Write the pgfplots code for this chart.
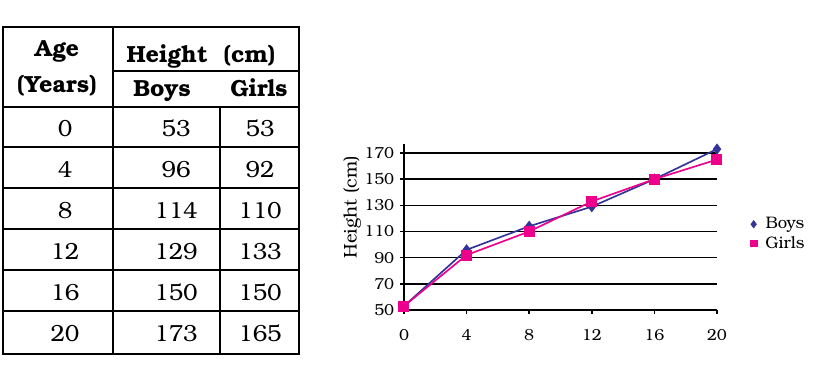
\documentclass[border=0pt]{standalone}
\usepackage{fontspec}
\setmainfont{TeX Gyre Bonum}
\usepackage{pgfplots}
\pgfplotsset{compat=1.18}
\definecolor{boys}{RGB}{51,51,153}
\definecolor{girls}{RGB}{236,0,140}
\begin{document}
\begin{tikzpicture}
\begin{scope}[x=0.6pt,y=0.6pt]
\useasboundingbox (0,0) rectangle (820,383);
% table grid (y = 383 - pixel row)
\draw[line width=1.3pt] (3,356) rectangle (299,29);
\draw[line width=1.3pt] (113,356) -- (113,29);
\draw[line width=1.3pt] (220,276) -- (220,29);
\draw[line width=1.3pt] (113,312) -- (299,312);
\foreach \yy in {276,236,195,154,113,72} {\draw[line width=1.3pt] (3,\yy) -- (299,\yy);}
\begin{scope}[every node/.style={anchor=base,inner sep=0pt,font=\fontsize{14}{16}\selectfont}]
\node[font=\fontsize{14}{16}\selectfont\bfseries] at (57,326) {Age};
\node[font=\fontsize{14}{16}\selectfont\bfseries] at (57,290) {(Years)};
\node[font=\fontsize{14}{16}\selectfont\bfseries] at (201,320) {Height\ \ (cm)};
\node[font=\fontsize{14}{16}\selectfont\bfseries] at (162,286) {Boys};
\node[font=\fontsize{14}{16}\selectfont\bfseries] at (259,286) {Girls};
\foreach \a/\b/\g/\yy in {0/53/53/246, 4/96/92/205, 8/114/110/164, 12/129/133/123, 16/150/150/82, 20/173/165/41} {
  \node at (65,\yy) {\a};
  \node at (176,\yy) {\b};
  \node at (260,\yy) {\g};
}
\end{scope}
\end{scope}
\begin{axis}[
  at={(242.4pt,43.8pt)}, anchor=south west,
  scale only axis, width=187.8pt, height=99.6pt,
  xmin=0, xmax=20, ymin=50, ymax=176.9,
  xtick={0,4,8,12,16,20}, ytick={50,70,90,110,130,150,170},
  axis lines*=left,
  ymajorgrids,
  grid style={black, line width=0.9pt},
  axis line style={black, line width=0.9pt},
  tick style={black, line width=0.9pt},
  major tick length=2.4pt,
  tick align=outside,
  tick label style={font=\fontsize{9.6}{11}\selectfont},
  xticklabel style={yshift=-6pt},
  /pgf/number format/assume math mode=true,
  ylabel={Height (cm)},
  every axis y label/.style={at={(axis description cs:-0.165,0.62)}, rotate=90, anchor=center,
    font=\fontsize{11}{13}\selectfont},
  legend style={at={(axis description cs:1.085,0.458)}, anchor=west, draw=none, fill=none,
    font=\fontsize{10}{11.5}\selectfont, row sep=-1pt},
  legend image code/.code={\draw[#1] plot coordinates {(0cm,0cm)};\path[draw=none,fill=none] (-0.1cm,-0.05cm) rectangle (5pt,0.05cm);},
  clip=false,
]
\addplot[boys, line width=1pt, mark=diamond*, mark size=2.6pt, forget plot]
  coordinates {(0,53) (4,96) (8,114) (12,129) (16,150) (20,173)};
\addplot[girls, line width=1pt, mark=square*, mark size=2.8pt, forget plot]
  coordinates {(0,53) (4,92) (8,110) (12,133) (16,150) (20,165)};
\addlegendimage{only marks, boys, mark=diamond*, mark size=2.2pt}
\addlegendentry{Boys}
\addlegendimage{only marks, girls, mark=square*, mark size=2pt}
\addlegendentry{Girls}
\end{axis}
\end{tikzpicture}
\end{document}
